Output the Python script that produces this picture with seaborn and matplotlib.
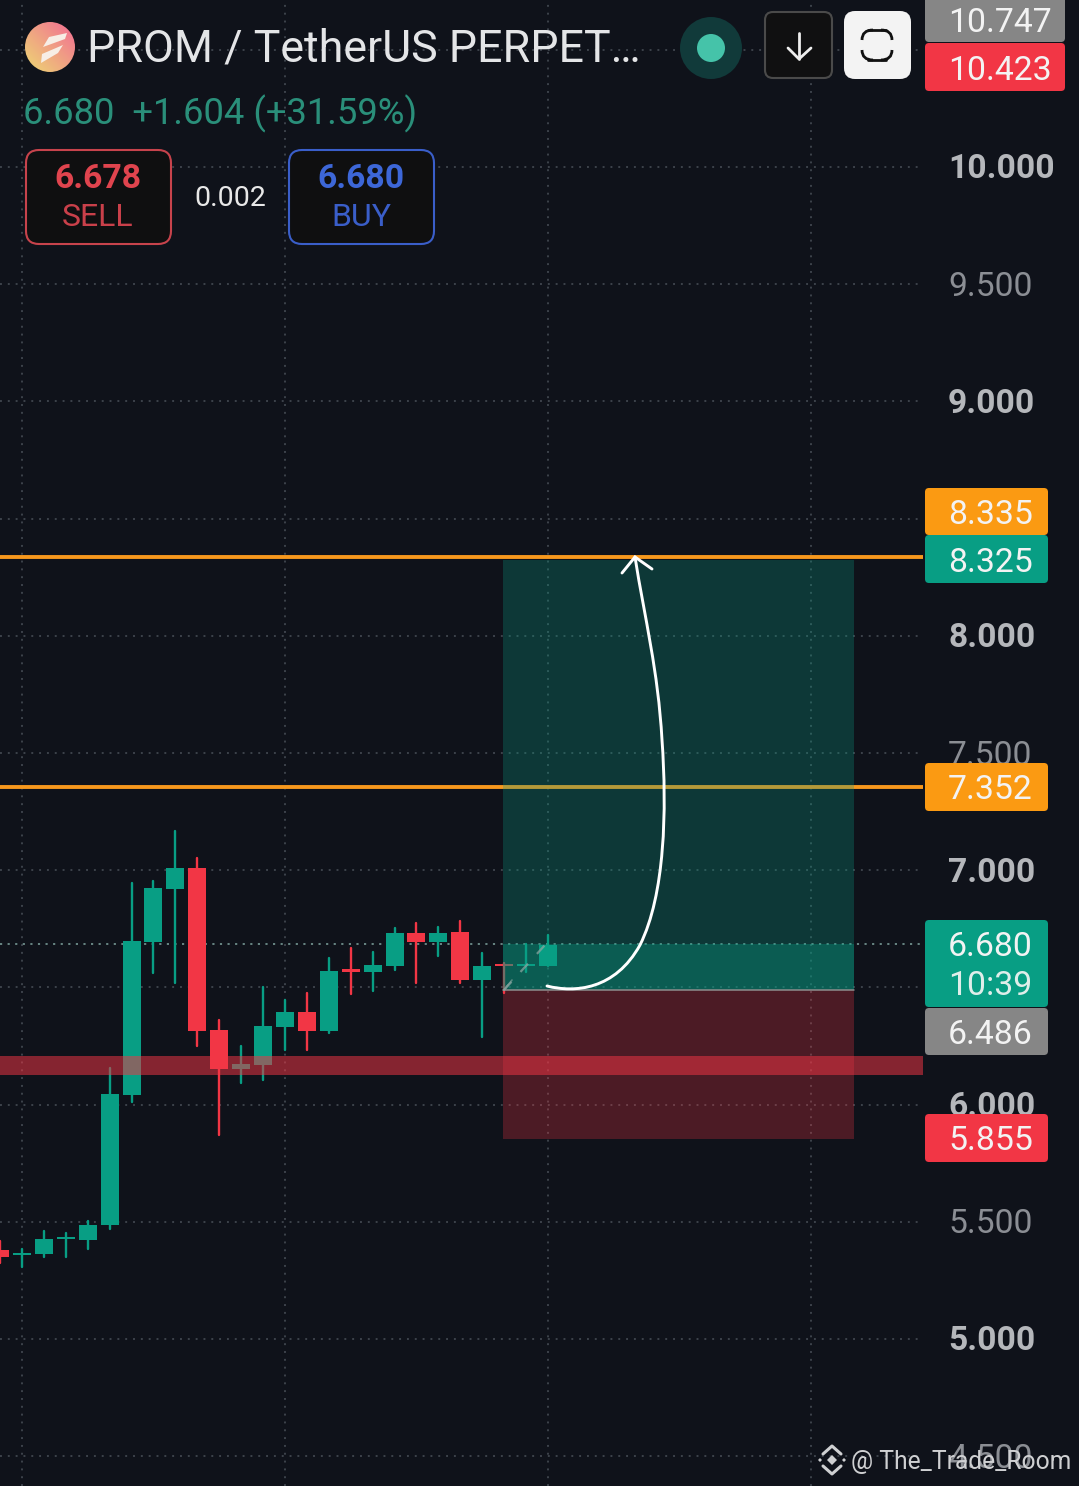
import numpy as np
import pandas as pd
import seaborn as sns
import matplotlib
matplotlib.use("Agg")
import matplotlib.pyplot as plt
from matplotlib.patches import FancyBboxPatch, Circle, PathPatch, Polygon
from matplotlib.path import Path
from matplotlib.transforms import ScaledTranslation

# ---- data ----
candle = list(range(26))
open_ = [5.380, 5.358, 5.363, 5.427, 5.422, 5.486, 6.041, 6.694, 6.920, 7.009, 6.318, 6.152, 6.169,
         6.331, 6.395, 6.314, 6.579, 6.566, 6.591, 6.732, 6.694, 6.736, 6.532, 6.600, 6.592, 6.591]
close = [5.350, 5.367, 5.427, 5.436, 5.486, 6.045, 6.698, 6.924, 7.009, 6.314, 6.152, 6.173, 6.335,
         6.395, 6.314, 6.570, 6.566, 6.596, 6.732, 6.694, 6.732, 6.532, 6.591, 6.592, 6.600, 6.680]
high = [5.418, 5.384, 5.461, 5.452, 5.503, 6.156, 6.945, 6.954, 7.167, 7.052, 6.361, 6.250, 6.502,
        6.446, 6.476, 6.625, 6.668, 6.651, 6.753, 6.775, 6.758, 6.783, 6.647, 6.604, 6.685, 6.722]
low = [5.324, 5.307, 5.350, 5.350, 5.384, 5.469, 6.011, 6.561, 6.519, 6.250, 5.870, 6.092, 6.105,
       6.233, 6.233, 6.305, 6.472, 6.485, 6.574, 6.519, 6.634, 6.519, 6.288, 6.476, 6.565, 6.591]

price_ticks = [4.5, 5.0, 5.5, 6.0, 6.5, 7.0, 7.5, 8.0, 8.5, 9.0, 9.5, 10.0, 10.5]
price_labels = ["4.500", "5.000", "5.500", "6.000", "", "7.000", "7.500", "8.000", "", "9.000", "9.500", "10.000", ""]
bold_labels = ["5.000", "6.000", "7.000", "8.000", "9.000", "10.000"]
time_ticks = [1, 13, 25, 37]

level_prices = [8.335, 7.355]
band_low, band_high = 6.126, 6.207
target, entry, stop, last_price = 8.325, 6.490, 5.855, 6.684

title = "PROM / TetherUS PERPET…"
change = "6.680  +1.604 (+31.59%)"

# ---- colours ----
BG = "#0f121a"
GREEN = "#089e84"
RED = "#f23645"
ORANGE = "#f7981d"

sns.set_theme(style="dark", rc={"axes.facecolor": BG, "figure.facecolor": BG, "axes.edgecolor": BG})
plt.rcParams["font.family"] = ["Roboto", "DejaVu Sans"]

W, H = 1079, 1486
fig = plt.figure(figsize=(W / 100, H / 100), dpi=100)

# main price axes: pixel 0..923 horizontally, full height
PX_PER_CANDLE = 21.92
PX_PER_UNIT = 234.4
ax = fig.add_axes([0, 0, 923 / W, 1])
ax.set_xlim(0, 923 / PX_PER_CANDLE)
ax.set_ylim(10 - (H - 167) / PX_PER_UNIT, 10 + 167 / PX_PER_UNIT)

ax.set_yticks(price_ticks)
ax.set_yticklabels(price_labels)
ax.set_xticks(time_ticks)
ax.set_xticklabels([])
ax.yaxis.tick_right()
ax.tick_params(axis="y", length=0, pad=18.0, labelsize=24.2)
ax.tick_params(axis="x", length=0)
for tl in ax.get_yticklabels():
    tl.set_transform(tl.get_transform() + ScaledTranslation(0, 1 / 100, fig.dpi_scale_trans))
    if tl.get_text() in bold_labels:
        tl.set_fontweight("bold")
        tl.set_color("#b5b7bb")
    else:
        tl.set_color("#8b8e94")
ax.grid(True, color="#474d56", linewidth=1.15, linestyle=(0, (1.2, 3.7)))
ax.set_axisbelow(True)
for s in ax.spines.values():
    s.set_visible(False)

df = pd.DataFrame({"candle": candle, "open": open_, "close": close, "high": high, "low": low})
df["dir"] = np.where(df["close"] >= df["open"], "up", "down")
palette = {"up": GREEN, "down": RED}

# wicks through seaborn
wicks = df.melt(id_vars=["candle", "dir"], value_vars=["low", "high"], value_name="price")
sns.lineplot(data=wicks, x="candle", y="price", hue="dir", units="candle", estimator=None,
             palette=palette, linewidth=1.7, legend=False, ax=ax, zorder=3, sort=False)
ax.set_xlabel("")
ax.set_ylabel("")
# bodies
ax.bar(df["candle"], (df["close"] - df["open"]).abs(), bottom=df[["open", "close"]].min(axis=1),
       width=0.82, color=df["dir"].map(palette), zorder=4, linewidth=0)

# last price dotted line
ax.axhline(last_price, color="#6f8f8c", lw=1.3, linestyle=(0, (1.2, 3.0)), zorder=2)

# levels
for p in level_prices:
    ax.axhline(p, color=ORANGE, lw=2.8, zorder=5)

# support band
ax.axhspan(band_low, band_high, color=RED, alpha=0.52, lw=0, zorder=6)

# position tool
x0, x1 = 503 / PX_PER_CANDLE, 854 / PX_PER_CANDLE
ax.fill_between([x0, x1], entry, target, color=GREEN, alpha=0.28, lw=0, zorder=7)
ax.fill_between([x0, x1], entry, last_price, color=GREEN, alpha=0.36, lw=0, zorder=7)
ax.fill_between([x0, x1], stop, entry, color=RED, alpha=0.27, lw=0, zorder=7)
ax.plot([x0, x1], [entry, entry], color="#8e8e8e", lw=1.1, zorder=8)

# ---- pixel overlay for the app's interface ----
ui = fig.add_axes([0, 0, 1, 1], zorder=10)
ui.patch.set_alpha(0)
ui.axis("off")


def box(x0, y0, x1, y1, fc, ec="none", lw=0, r=5):
    ui.add_patch(FancyBboxPatch((x0 + r, y0 + r), x1 - x0 - 2 * r, y1 - y0 - 2 * r,
                                boxstyle=f"round,pad={r},rounding_size={r}", fc=fc, ec=ec, lw=lw))


def label(x0, y0, x1, y1, txt, fc, dy=3):
    box(x0, y0, x1, y1, fc, r=4)
    ui.text(948, (y0 + y1) / 2 + dy, txt, color="#f3f3f3", fontsize=24.3, ha="left", va="center")


# dashed forecast trace over the last candles
ui.plot([504, 545], [990, 945], color="#8aa5a0", lw=1.6, linestyle=(0, (5, 6)), alpha=0.75)
ui.plot([512, 504, 508], [980, 990, 985], color="#8aa5a0", lw=1.2, alpha=0.6)

# drawn white arrow
verts = [(547, 986), (575, 993), (615, 990), (640, 945),
         (665, 895), (667, 810), (662, 740),
         (658, 670), (645, 620), (635, 557)]
codes = [Path.MOVETO] + [Path.CURVE4] * 9
ui.add_patch(PathPatch(Path(verts, codes), fc="none", ec="white", lw=2.1, capstyle="round"))
ui.plot([622, 635, 652], [573, 557, 569], color="white", lw=2.1, solid_joinstyle="miter")

# right-hand labels
label(925, -8, 1065, 42, "10.747", "#868686", dy=6)
label(925, 43, 1065, 91, "10.423", "#f23645", dy=4)
label(925, 488, 1048, 535, "8.335", "#fb9a12")
label(925, 535, 1048, 583, "8.325", "#089e84", dy=4)
label(925, 763, 1048, 811, "7.352", "#fb9a12")
box(925, 920, 1048, 1007, "#089e84", r=4)
ui.text(948, 947, "6.680", color="#f3f3f3", fontsize=24.3, ha="left", va="center")
ui.text(948, 986, "10:39", color="#dfeeea", fontsize=24.3, ha="left", va="center")
label(925, 1008, 1048, 1055, "6.486", "#868686")
label(925, 1114, 1048, 1162, "5.855", "#f23645")

# header
grad = np.linspace(0, 1, 64)
gx, gy = np.meshgrid(grad, grad)
t = np.clip((gx + (1 - gy)) / 2, 0, 1)[..., None]
img = (1 - t) * np.array([0.93, 0.85, 0.45]) + t * np.array([0.95, 0.42, 0.58])
im = ui.imshow(img, extent=(25, 75, 72, 22), aspect="auto", zorder=2)
im.set_clip_path(Circle((50, 47), 25, transform=ui.transData))
ui.add_patch(Polygon([(43, 47), (49, 37), (67, 33), (65, 39)], fc="#f7eee6", ec="none", zorder=3))
ui.add_patch(Polygon([(41, 63), (42, 54), (63, 45), (58, 53)], fc="#f7eee6", ec="none", zorder=3))

ui.text(87, 49, title, color="#e4e5e7", fontsize=32.2, ha="left", va="center")
ui.text(23, 114, change, color="#2a8f7a", fontsize=26.2, ha="left", va="center")

box(26, 150, 171, 244, "#0f0f10", "#c7434c", 1.5, r=13)
ui.text(98, 179, "6.678", color="#e0444e", fontsize=24.3, fontweight="bold", ha="center", va="center")
ui.text(98, 218, "SELL", color="#c9404a", fontsize=23, ha="center", va="center")
ui.text(230, 198, "0.002", color="#e8e8e8", fontsize=20.5, ha="center", va="center")
box(289, 150, 434, 244, "#0f0f10", "#3a5ec9", 1.5, r=13)
ui.text(361, 179, "6.680", color="#3d67d8", fontsize=24.3, fontweight="bold", ha="center", va="center")
ui.text(361, 218, "BUY", color="#3a5ec9", fontsize=23, ha="center", va="center")

# status dot and buttons
ui.add_patch(Circle((711, 48), 31, fc="#113a3a", ec="none"))
ui.add_patch(Circle((711, 48), 14, fc="#45c3a9", ec="none"))
box(765, 12, 832, 78, "#101011", "#4a4a4a", 1.5, r=8)
ui.plot([799, 799], [33, 59], color="#eeeeee", lw=2)
ui.plot([788, 799, 811], [48, 59, 48], color="#eeeeee", lw=2)
box(844, 11, 911, 79, "#f3f3f3", r=11)
for (a, b, c) in [((862, 40), (862, 30), (873, 30)), ((892, 40), (892, 30), (881, 30)),
                  ((862, 50), (862, 60), (873, 60)), ((892, 50), (892, 60), (881, 60))]:
    ui.add_patch(PathPatch(Path([a, b, c], [Path.MOVETO, Path.CURVE3, Path.CURVE3]),
                           fc="none", ec="#111111", lw=2))
ui.plot([868, 886], [30, 30], color="#111111", lw=2)
ui.plot([868, 886], [60, 60], color="#111111", lw=2)

# watermark
wm = "#cfd0d2"
ui.plot([823, 832, 841], [1454, 1446, 1454], color=wm, lw=2.2)
ui.plot([823, 832, 841], [1466, 1474, 1466], color=wm, lw=2.2)
ui.add_patch(Polygon([(832, 1455), (837, 1460), (832, 1465), (827, 1460)], fc=wm, ec="none"))
ui.add_patch(Polygon([(820, 1458), (822, 1460), (820, 1462), (818, 1460)], fc=wm, ec="none"))
ui.add_patch(Polygon([(844, 1458), (846, 1460), (844, 1462), (842, 1460)], fc=wm, ec="none"))
ui.text(851, 1462, "@ The_Trade_Room", color=wm, fontsize=17.7, ha="left", va="center")

ui.set_xlim(0, W)
ui.set_ylim(H, 0)

fig.savefig("out.png", dpi=100, facecolor=BG)
